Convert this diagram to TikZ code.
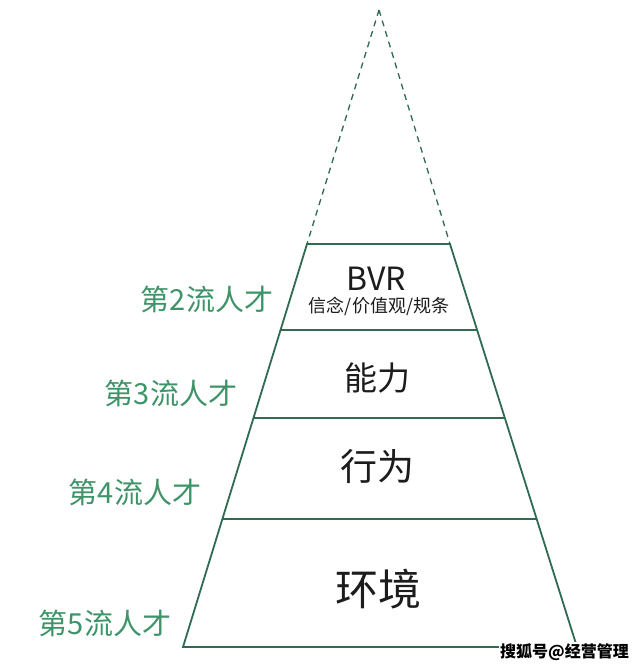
\documentclass[tikz,border=0pt]{standalone}
\usepackage{fontspec}
\setmainfont{Noto Sans CJK SC}
\newfontfamily\cjk{Noto Sans CJK SC}
\definecolor{edgegreen}{HTML}{2F6B52}
\definecolor{labelgreen}{HTML}{3E9468}
\definecolor{inktext}{HTML}{1C1C1C}
\begin{document}
\begin{tikzpicture}[x=1pt,y=-1pt,
  edge/.style={draw=edgegreen,line width=1.8pt,line join=miter},
  dashedge/.style={draw=edgegreen,line width=1.3pt,dash pattern=on 6pt off 5pt},
  lvl/.style={inner sep=0pt,text=labelgreen,font=\cjk\fontsize{29}{32}\selectfont},
  tier/.style={inner sep=0pt,text=inktext}]
\useasboundingbox[fill=white] (0,0) rectangle (636,668);
% geometry
\coordinate (apex) at (379,10);
\coordinate (l1) at (307,244); \coordinate (r1) at (450,244);
\coordinate (l2) at (281,330); \coordinate (r2) at (477,330);
\coordinate (l3) at (254,418); \coordinate (r3) at (505,418);
\coordinate (l4) at (223,519); \coordinate (r4) at (537,519);
\coordinate (l5) at (183,647); \coordinate (r5) at (577,647);
% dashed apex
\draw[dashedge] (apex) -- (l1);
\draw[dashedge] (apex) -- (r1);
% solid trapezoid
\draw[edge] (l1) -- (l5) -- (r5) -- (r1) -- cycle;
\draw[edge] (l2) -- (r2);
\draw[edge] (l3) -- (r3);
\draw[edge] (l4) -- (r4);
% tier texts
\node[tier,font=\cjk\fontsize{32}{34}\selectfont] (bvr) at (376,279) {BVR};
\node[tier,font=\cjk\fontsize{18}{20}\selectfont] (bvrsub) at (379,306) {信念/价值观/规条};
\node[tier,font=\cjk\fontsize{33}{36}\selectfont] (nengli) at (377,378) {能力};
\node[tier,font=\cjk\fontsize{37}{40}\selectfont] (xingwei) at (377,466) {行为};
\node[tier,font=\cjk\fontsize{43}{46}\selectfont] (huanjing) at (378,589) {环境};
% level labels
\node[lvl] (lv2) at (207,299) {第2流人才};
\node[lvl] (lv3) at (171,393) {第3流人才};
\node[lvl] (lv4) at (135,492) {第4流人才};
\node[lvl] (lv5) at (105,623) {第5流人才};
% watermark
\node[inner sep=1pt,fill=white,text=black,font=\cjk\bfseries\fontsize{16}{18}\selectfont,anchor=east] (wm) at (630,652) {搜狐号@经营管理};
\end{tikzpicture}
\end{document}
